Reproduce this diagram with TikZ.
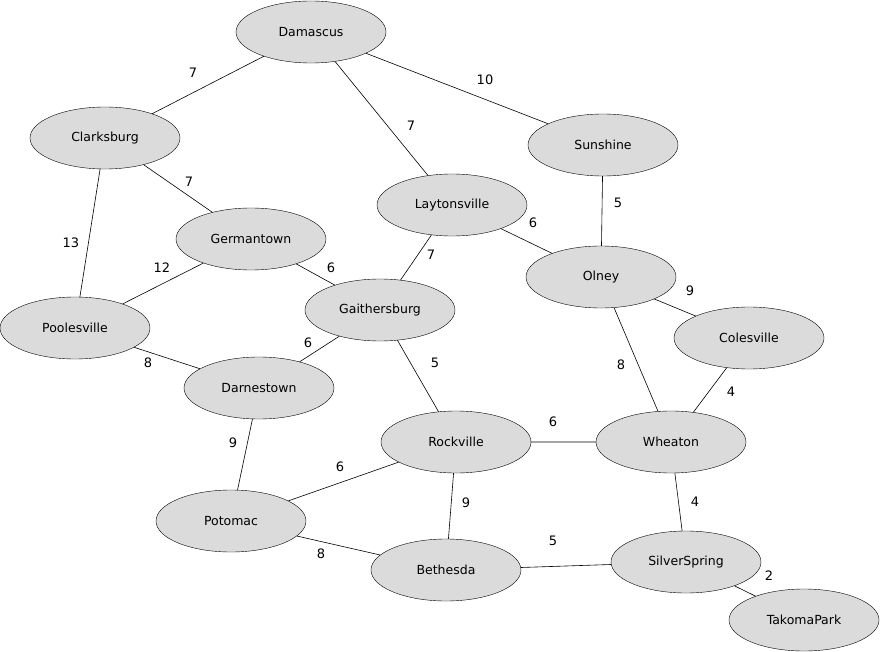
\documentclass[tikz,border=0pt]{standalone}
\usepackage{fontspec}
\setmainfont{DejaVu Sans}
\usetikzlibrary{shapes.geometric}
\begin{document}
\begin{tikzpicture}[x=1pt,y=-1pt,
  city/.style={ellipse,draw=black,fill=gray!28,minimum width=150pt,minimum height=62pt,inner sep=0pt,font=\fontsize{12.5}{14}\selectfont},
  w/.style={font=\fontsize{13}{15}\selectfont},
  e/.style={draw=black,line width=0.6pt}]
\useasboundingbox (0,0) rectangle (880,652);
\node[city] (Da) at (311,32) {Damascus};
\node[city] (Cl) at (105,138) {Clarksburg};
\node[city] (Su) at (603,145) {Sunshine};
\node[city] (La) at (452,205) {Laytonsville};
\node[city] (Ge) at (251,239) {Germantown};
\node[city] (Ol) at (601,277) {Olney};
\node[city] (Ga) at (380,310) {Gaithersburg};
\node[city] (Po) at (75,328) {Poolesville};
\node[city] (Co) at (749,338) {Colesville};
\node[city] (Dn) at (259,388) {Darnestown};
\node[city] (Ro) at (456,442) {Rockville};
\node[city] (Wh) at (671,442) {Wheaton};
\node[city] (Pt) at (231,521) {Potomac};
\node[city] (Be) at (446,570) {Bethesda};
\node[city] (Si) at (686,562) {SilverSpring};
\node[city] (Ta) at (804,620) {TakomaPark};
\path[e] (Da)--(Cl) (Da)--(Su) (Da)--(La) (Cl)--(Ge) (Cl)--(Po) (Ge)--(Po) (Ge)--(Ga)
 (La)--(Ga) (La)--(Ol) (Su)--(Ol) (Ol)--(Co) (Ol)--(Wh) (Co)--(Wh) (Po)--(Dn) (Ga)--(Dn)
 (Ga)--(Ro) (Dn)--(Pt) (Ro)--(Wh) (Ro)--(Pt) (Ro)--(Be) (Pt)--(Be) (Be)--(Si) (Wh)--(Si) (Si)--(Ta);
\node[w] (l1) at (193,73) {7};
\node[w] (l2) at (485,80) {10};
\node[w] (l3) at (411,126) {7};
\node[w] (l4) at (189,182) {7};
\node[w] (l5) at (71,243) {13};
\node[w] (l6) at (162,268) {12};
\node[w] (l7) at (331,268) {6};
\node[w] (l8) at (431,255) {7};
\node[w] (l9) at (533,223) {6};
\node[w] (l10) at (618,203) {5};
\node[w] (l11) at (690,291) {9};
\node[w] (l12) at (621,365) {8};
\node[w] (l13) at (731,392) {4};
\node[w] (l14) at (148,363) {8};
\node[w] (l15) at (308,343) {6};
\node[w] (l16) at (435,363) {5};
\node[w] (l17) at (233,443) {9};
\node[w] (l18) at (553,422) {6};
\node[w] (l19) at (340,467) {6};
\node[w] (l20) at (466,503) {9};
\node[w] (l21) at (321,554) {8};
\node[w] (l22) at (553,541) {5};
\node[w] (l23) at (695,502) {4};
\node[w] (l24) at (769,576) {2};
\end{tikzpicture}
\end{document}
